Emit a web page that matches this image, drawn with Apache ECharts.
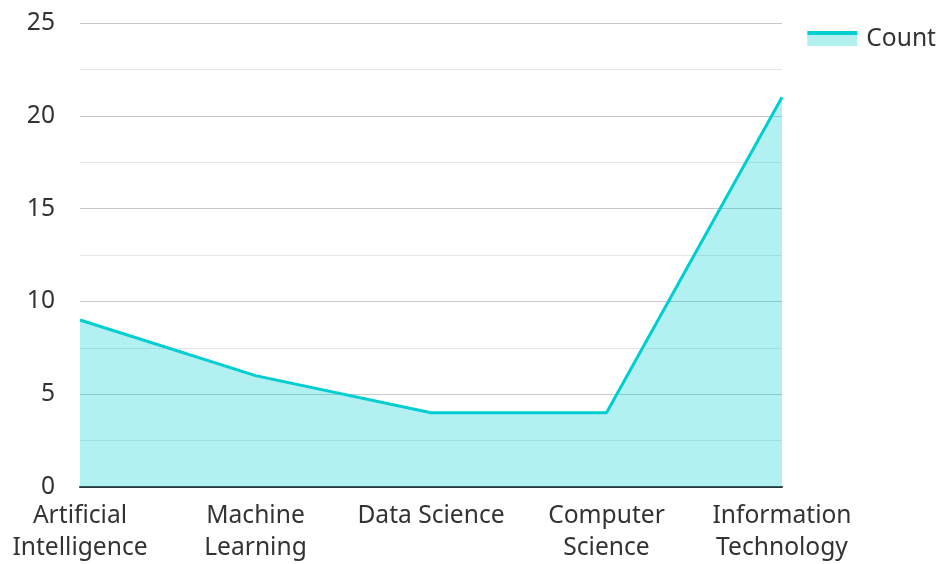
<!DOCTYPE html>
<html>
<head>
<meta charset="utf-8">
<script src="https://cdn.jsdelivr.net/npm/echarts@6/dist/echarts.min.js"></script>
<style>
  html, body { margin: 0; padding: 0; background: #fff; }
  #main { width: 940px; height: 564px; }
</style>
</head>
<body>
<div id="main"></div>
<script>
  // data
  const categories = ['Artificial\nIntelligence', 'Machine\nLearning', 'Data Science', 'Computer\nScience', 'Information\nTechnology'];
  const counts = [9, 6, 4, 4, 21];
  const seriesName = 'Count';

  let myChart = echarts.init(document.getElementById('main'));
  // legend icon: line on top, filled area under it
  let legendColor = new echarts.graphic.LinearGradient(0, 0, 0, 1, [
    { offset: 0, color: '#00CED1' },
    { offset: 0.27, color: '#00CED1' },
    { offset: 0.27, color: '#b2efef' },
    { offset: 1, color: '#b2efef' }
  ]);
  let option = {
    textStyle: { fontFamily: 'Noto Sans' },
    legend: {
      right: 4,
      top: 26,
      padding: 0,
      icon: 'rect',
      itemWidth: 50,
      itemHeight: 15,
      itemStyle: { color: legendColor },
      textStyle: { fontSize: 24.6, color: '#333', fontFamily: 'Noto Sans', padding: [0, 0, 0, 4] },
      data: [seriesName]
    },
    grid: { left: 80, right: 158, top: 23, bottom: 74 },
    xAxis: {
      type: 'category',
      boundaryGap: false,
      data: categories,
      axisLine: { lineStyle: { color: '#333', width: 2 } },
      axisTick: { show: false },
      axisLabel: { fontSize: 24.6, color: '#333', margin: 13, lineHeight: 32, interval: 0, fontFamily: 'Noto Sans' }
    },
    yAxis: {
      type: 'value',
      min: 0,
      max: 25,
      interval: 5,
      axisLine: { show: false },
      axisTick: { show: false },
      axisLabel: { fontSize: 24.6, color: '#333', margin: 25, fontFamily: 'Noto Sans' },
      splitLine: { lineStyle: { color: '#c8c8c8', width: 1 } },
      minorTick: { show: false, splitNumber: 2 },
      minorSplitLine: { show: true, lineStyle: { color: '#e6e6e6', width: 1 } }
    },
    series: [{
      name: seriesName,
      type: 'line',
      data: counts,
      symbol: 'none',
      lineStyle: { color: '#00CED1', width: 3 },
      itemStyle: { color: '#00CED1' },
      areaStyle: { color: '#00CED1', opacity: 0.3 }
    }]
  };
  myChart.setOption(option);
</script>
</body>
</html>
